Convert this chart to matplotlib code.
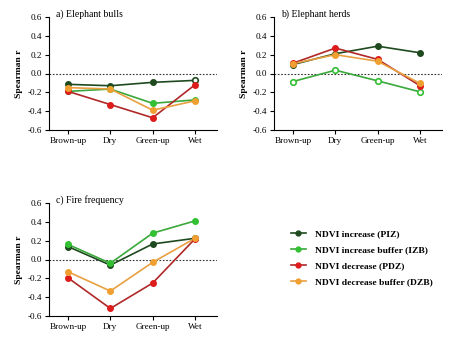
import numpy as np
import matplotlib.pyplot as plt

seasons = ['Brown-up', 'Dry', 'Green-up', 'Wet']
labels = ['NDVI increase (PIZ)', 'NDVI increase buffer (IZB)',
          'NDVI decrease (PDZ)', 'NDVI decrease buffer (DZB)']

# Spearman r per season, one list per zone
bulls_piz = [-0.115, -0.13, -0.094, -0.073]
bulls_izb = [-0.19, -0.165, -0.317, -0.28]
bulls_pdz = [-0.19, -0.33, -0.47, -0.12]
bulls_dzb = [-0.15, -0.165, -0.39, -0.29]

herds_piz = [0.095, 0.21, 0.29, 0.22]
herds_izb = [-0.085, 0.035, -0.078, -0.195]
herds_pdz = [0.11, 0.27, 0.15, -0.13]
herds_dzb = [0.105, 0.2, 0.13, -0.105]

fire_piz = [0.137, -0.06, 0.165, 0.225]
fire_izb = [0.16, -0.04, 0.28, 0.41]
fire_pdz = [-0.195, -0.52, -0.25, 0.22]
fire_dzb = [-0.13, -0.335, -0.03, 0.225]

# open marker = not significant
bulls_open = [[False, False, False, True], [False] * 4, [False] * 4, [False] * 4]
herds_open = [[False] * 4, [True] * 4, [False] * 4, [False] * 4]
fire_open = [[False] * 4] * 4

line_cols = ['#1f4a1f', '#3aa83a', '#b02828', '#e8a040']
mark_cols = ['#1f4a1f', '#33c033', '#dd1c1c', '#f0a030']

plt.rcParams['font.family'] = ['Liberation Serif', 'DejaVu Serif']

fig = plt.figure(figsize=(4.74, 3.40), dpi=100)
W, H = 474.0, 340.0


def make_ax(left, top, right, bottom):
    return fig.add_axes([left / W, 1 - bottom / H, (right - left) / W, (bottom - top) / H])


def draw_panel(ax, series, opens, title):
    x = np.arange(len(seasons))
    for i, vals in enumerate(series):
        ax.plot(x, vals, color=line_cols[i], lw=1.2, zorder=2)
        for j in range(len(vals)):
            if opens[i][j]:
                ax.plot(x[j], vals[j], 'o', ms=4, mfc='white', mec=mark_cols[i], mew=1.2, zorder=3)
            else:
                ax.plot(x[j], vals[j], 'o', ms=4, color=mark_cols[i], zorder=3)
    ax.axhline(0, color='#333333', lw=0.8, ls=(0, (1.5, 1.5)), zorder=1)
    ax.set_xlim(-0.45, 3.52)
    ax.set_ylim(-0.6, 0.6)
    ax.set_yticks([-0.6, -0.4, -0.2, 0.0, 0.2, 0.4, 0.6])
    ax.set_yticklabels(['-0.6', '-0.4', '-0.2', '0.0', '0.2', '0.4', '0.6'])
    ax.set_xticks(x)
    ax.set_xticklabels(seasons)
    ax.tick_params(labelsize=6.6, length=3, width=0.8, pad=2)
    ax.spines['top'].set_visible(False)
    ax.spines['right'].set_visible(False)
    ax.spines['left'].set_linewidth(0.8)
    ax.spines['bottom'].set_linewidth(0.8)
    ax.set_ylabel('Spearman r', fontsize=6.8, fontweight='bold', labelpad=3)
    ax.text(0.04, 1.07, title, transform=ax.transAxes, fontsize=7, va='top')


ax1 = make_ax(49, 17, 217, 130)
draw_panel(ax1, [bulls_piz, bulls_izb, bulls_pdz, bulls_dzb], bulls_open, 'a) Elephant bulls')

ax2 = make_ax(274, 17, 442, 130)
draw_panel(ax2, [herds_piz, herds_izb, herds_pdz, herds_dzb], herds_open, 'b) Elephant herds')

ax3 = make_ax(49, 203, 217, 316)
draw_panel(ax3, [fire_piz, fire_izb, fire_pdz, fire_dzb], fire_open, 'c) Fire frequency')

handles = [plt.Line2D([], [], color=line_cols[i], marker='o', ms=3.5, mfc=mark_cols[i],
                      mec=mark_cols[i], lw=1.2) for i in range(4)]
fig.legend(handles, labels, loc='upper left', bbox_to_anchor=(282 / W, 1 - 221 / H),
           frameon=False, prop={'size': 6.8, 'weight': 'bold'}, handlelength=1.6,
           labelspacing=0.8, handletextpad=1.0)

plt.savefig('out.png', dpi=100)
